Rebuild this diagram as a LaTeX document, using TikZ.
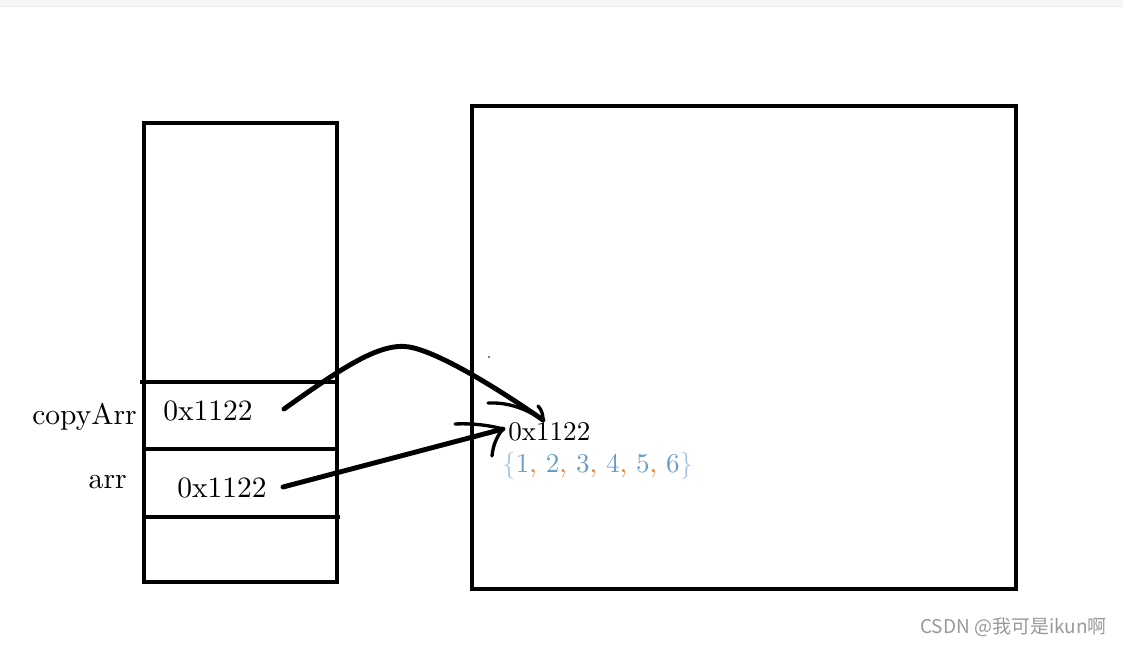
\documentclass[tikz,border=0pt]{standalone}
\usepackage{fontspec}
\newfontfamily\cjk{Noto Sans CJK SC}
\newfontfamily\lmten{lmroman10-regular.otf}
\definecolor{numblue}{HTML}{6A9BC9}
\definecolor{braceblue}{HTML}{A9C5E2}
\definecolor{commaorange}{HTML}{D9823B}
\tikzset{
  frame/.style={line width=2.6pt},
  pen/.style={line width=2.8pt, line cap=round},
  barb/.style={line width=1.9pt, line cap=round},
  val/.style={inner sep=0pt, font=\lmten\fontsize{16.8}{20}\selectfont},
  heaptxt/.style={inner sep=0pt, font=\lmten\fontsize{15.4}{18}\selectfont}
}
\newcommand{\cm}{\textcolor{commaorange}{,}}
\begin{document}
\begin{tikzpicture}[x=0.02cm,y=-0.02cm]
\useasboundingbox (0,0) rectangle (1123,647);
\fill[black!3] (0,0) rectangle (1123,6);
\draw[black!8] (0,6) -- (1123,6);
%%%%
\draw[frame] (144,123) rectangle (337,582);
\draw[frame] (140,382) -- (337,382);
\draw[frame] (144,449) -- (337,449);
\draw[frame] (144,517) -- (340,517);
\draw[frame] (472,106) rectangle (1016,589);
%%%%
\node[val, anchor=base east] (lblcopy) at (137,424) {copyArr};
\node[val, anchor=base east] (lblarr) at (127,488) {arr};
\node[val] (copyval) at (208,411) {0x1122};
\node[val] (arrval) at (222,488) {0x1122};
\node[heaptxt, anchor=base west] (heapaddr) at (508,440) {0x1122};
\node[heaptxt, anchor=base west] (heaparr) at (502,472)
  {\textcolor{braceblue}{\{}\textcolor{numblue}{1}\cm{} \textcolor{numblue}{2}\cm{} \textcolor{numblue}{3}\cm{} \textcolor{numblue}{4}\cm{} \textcolor{numblue}{5}\cm{} \textcolor{numblue}{6}\textcolor{braceblue}{\}}};
%%%%
\coordinate (cs) at (284,409);
\coordinate (ce) at (543,420);
\coordinate (as) at (283,487);
\coordinate (ae) at (503,429);
\draw[pen] (cs) .. controls (350,362) and (385,340) .. (414,348)
  .. controls (445,356) and (500,390) .. (ce);
\draw[barb] (488,403) .. controls (510,402) and (528,410) .. (ce);
\draw[barb] (538,406) .. controls (542,410) and (543,415) .. (ce);
\draw[pen] (as) -- (ae);
\draw[barb] (455,424) .. controls (475,423) and (492,426) .. (ae);
\draw[barb] (492,456) .. controls (493,445) and (497,436) .. (ae);
\fill (489,357) circle [radius=0.8];
%%%%
\node[inner sep=0pt, anchor=east, text=black!40, font=\cjk\fontsize{10.8}{12}\selectfont] (mark) at (1107,627) {CSDN @我可是ikun啊};
\end{tikzpicture}
\end{document}
